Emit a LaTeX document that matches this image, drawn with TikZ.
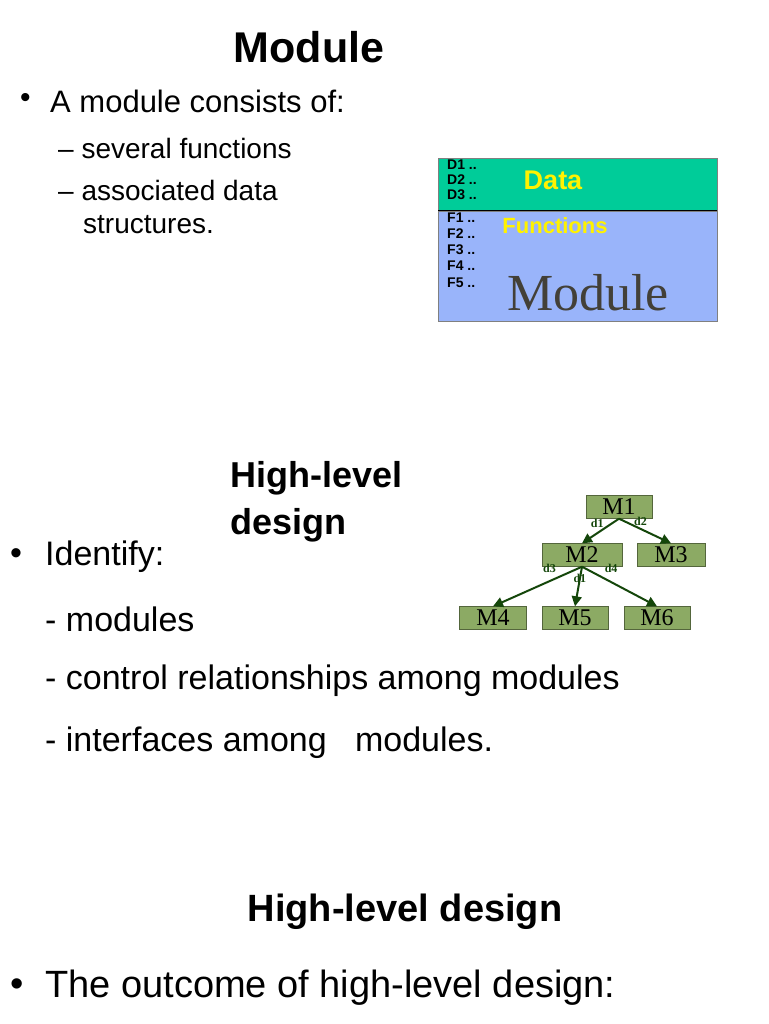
\documentclass[tikz,border=0pt]{standalone}
\usepackage{fontspec}
\setmainfont{Liberation Sans}
\newfontfamily\serifface{Liberation Serif}
\usetikzlibrary{arrows.meta}
\definecolor{datagreen}{RGB}{0,204,153}
\definecolor{funcblue}{RGB}{153,180,250}
\definecolor{modgreen}{RGB}{140,170,100}
\definecolor{arrowgreen}{RGB}{20,70,10}
\tikzset{
  txt/.style={anchor=west,inner sep=0pt,font=#1},
  mbox/.style={draw=modgreen!60!black,fill=modgreen,minimum width=66pt,minimum height=23pt,inner sep=0pt,
    font=\serifface\fontsize{24}{24}\selectfont,text=black},
  tiny lbl/.style={inner sep=1pt,font=\serifface\bfseries\fontsize{12}{12}\selectfont},
  link/.style={arrowgreen,line width=2pt,-{Triangle[length=10pt,width=10pt]}},
}
\begin{document}
\begin{tikzpicture}[x=1pt,y=-1pt]
\useasboundingbox (0,0) rectangle (768,1024);
%%% module slide
\node[inner sep=0pt,font=\bfseries\fontsize{43}{43}\selectfont] (title1) at (309,47) {Module};
\node[txt=\fontsize{30}{30}\selectfont] (b1) at (20,101) {•};
\node[txt=\fontsize{31}{31}\selectfont] (consists) at (50,101) {A module consists of:};
\node[txt=\fontsize{28}{28}\selectfont] (funcs) at (58,148) {– several functions};
\node[txt=\fontsize{28}{28}\selectfont] (assoc) at (58,190) {– associated data};
\node[txt=\fontsize{28}{28}\selectfont] (struct) at (83,225) {structures.};
%% module box
\draw[fill=funcblue,draw=gray] (438,211) rectangle (717,321);
\draw[fill=datagreen,draw=gray] (438,158) rectangle (717,211);
\draw[black,line width=1pt] (438,211) -- (717,211);
\foreach \i/\y in {1/165,2/180,3/195}
  \node[txt=\bfseries\fontsize{14}{14}\selectfont] (D\i) at (447,\y) {D\i\ ..};
\foreach \i/\y in {1/218,2/234,3/250,4/266,5/283}
  \node[txt=\bfseries\fontsize{14}{14}\selectfont] (F\i) at (447,\y) {F\i\ ..};
\node[inner sep=0pt,text=yellow,font=\bfseries\fontsize{27}{27}\selectfont] (data) at (553,180) {Data};
\node[inner sep=0pt,text=yellow,font=\bfseries\fontsize{22}{22}\selectfont] (functions) at (555,226) {Functions};
\node[inner sep=0pt,text=black!85!yellow,font=\serifface\fontsize{52}{52}\selectfont] (modtxt) at (588,293) {Module};
%%% high-level design
\node[txt=\bfseries\fontsize{36}{36}\selectfont] (hl1) at (230,478) {High-level};
\node[txt=\bfseries\fontsize{36}{36}\selectfont] (hl2) at (230,525) {design};
\node[txt=\fontsize{34}{34}\selectfont] (b2) at (10,557) {•};
\node[txt=\fontsize{34}{34}\selectfont] (identify) at (45,557) {Identify:};
\node[txt=\fontsize{34}{34}\selectfont] (mods) at (45,619) {- modules};
\node[txt=\fontsize{34}{34}\selectfont] (ctrl) at (45,681) {- control relationships among modules};
\node[txt=\fontsize{34}{34}\selectfont] (intf) at (45,743) {- interfaces among\ \ \ modules.};
%% tree
\node[mbox] (M1) at (619,507) {M1};
\node[mbox,minimum width=80pt] (M2) at (582,555) {M2};
\node[mbox,minimum width=68pt] (M3) at (671,555) {M3};
\node[mbox,minimum width=67pt] (M4) at (493,618) {M4};
\node[mbox] (M5) at (575,618) {M5};
\node[mbox] (M6) at (657,618) {M6};
\draw[link] (M1.south) -- (M2.north) node[tiny lbl,pos=0.2,left=6pt] {d1};
\draw[link] (M1.south) -- (M3.north) node[tiny lbl,pos=0.1,right=8pt] {d2};
\draw[link] (M2.south) -- (M4.north) node[tiny lbl,pos=0.25,above left=2pt] {d3};
\draw[link] (M2.south) -- (M5.north) node[tiny lbl,pos=0.3] {d1};
\draw[link] (M2.south) -- (M6.north) node[tiny lbl,pos=0.25,above right=2pt] {d4};
%%% outcome
\node[inner sep=0pt,font=\bfseries\fontsize{38}{38}\selectfont] (title3) at (405,912) {High-level design};
\node[txt=\fontsize{38}{38}\selectfont] (b3) at (10,988) {•};
\node[txt=\fontsize{38}{38}\selectfont] (outcome) at (45,988) {The outcome of high-level design:};
\end{tikzpicture}
\end{document}
